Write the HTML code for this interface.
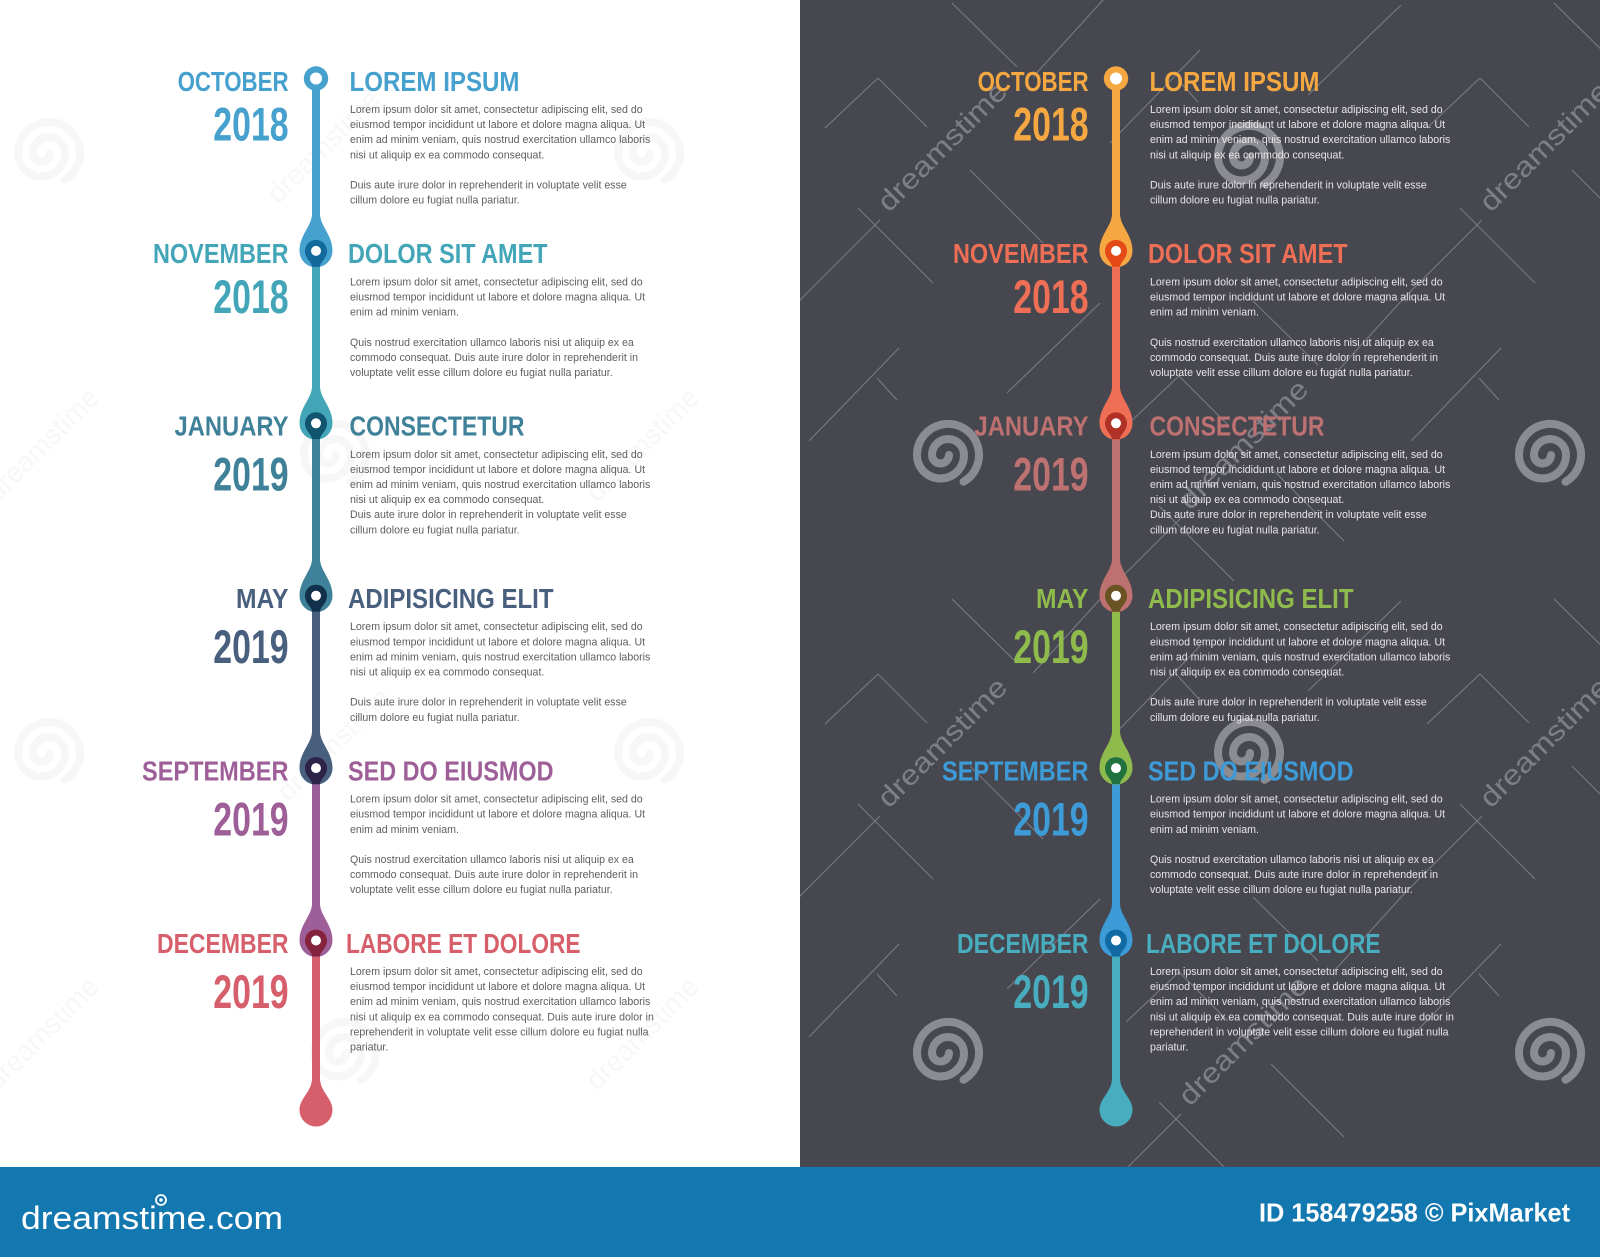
<!DOCTYPE html>
<html>
<head>
<meta charset="utf-8">
<style>
html,body{margin:0;padding:0;background:#fff;}
svg{display:block;}
.h{font-weight:bold;}
</style>
</head>
<body>
<svg width="1600" height="1257" viewBox="0 0 1600 1257" xmlns="http://www.w3.org/2000/svg" font-family="'Liberation Sans', Arial, sans-serif">
<defs>
  <clipPath id="dk"><rect x="800" y="0" width="800" height="1167"/></clipPath>
  <clipPath id="lt"><rect x="0" y="0" width="800" height="1167"/></clipPath>
  <path id="sp" d="M15.5,26.8 A31,31 0 1,0 -31,0 A23.5,23.5 0 0,0 16,0 A16,16 0 0,0 -16,0 A8.5,8.5 0 0,0 1,0" fill="none" stroke-width="8" stroke-linecap="round"/>
  <g id="wl" stroke-width="1.1">
    <line x1="825" y1="128" x2="878" y2="78"/>
    <line x1="878" y1="78" x2="927" y2="127"/>
    <line x1="952" y1="3" x2="1017" y2="67"/>
    <line x1="800" y1="300" x2="880" y2="220"/>
    <line x1="858" y1="208" x2="933" y2="283"/>
    <line x1="970" y1="170" x2="1043" y2="243"/>
    <line x1="1007" y1="393" x2="1100" y2="303"/>
    <line x1="877" y1="378" x2="897" y2="400"/>
    <line x1="1033" y1="77" x2="1103" y2="0"/>
    <line x1="1110" y1="143" x2="1200" y2="50"/>
  </g>
  <path id="td" d="M-4,-37C-4,-25 -16.5,-16 -16.5,0A16.5,16.5 0 0,0 16.5,0C16.5,-16 4,-25 4,-37Z"/>
  <path id="ti" d="M-11,0A11,11 0 0,1 11,0C11,8 4,11 4,16L-4,16C-4,11 -11,8 -11,0Z"/>
</defs>

<!-- backgrounds -->
<rect width="1600" height="1257" fill="#ffffff"/>
<rect x="800" y="0" width="800" height="1167" fill="#47474f"/>

<!-- left faint watermark -->
<g clip-path="url(#lt)" opacity="0.035">
  <use href="#sp" transform="translate(49,153)" stroke="#000"/>
  <use href="#sp" transform="translate(649,153)" stroke="#000"/>
  <use href="#sp" transform="translate(335,455)" stroke="#000"/>
  <use href="#sp" transform="translate(49,753)" stroke="#000"/>
  <use href="#sp" transform="translate(649,753)" stroke="#000"/>
  <use href="#sp" transform="translate(345,1053)" stroke="#000"/>
  <g fill="#000" font-size="28">
    <text transform="translate(330,153) rotate(-45)" text-anchor="middle">dreamstime</text>
    <text transform="translate(49,451) rotate(-45)" text-anchor="middle">dreamstime</text>
    <text transform="translate(649,451) rotate(-45)" text-anchor="middle">dreamstime</text>
    <text transform="translate(340,751) rotate(-45)" text-anchor="middle">dreamstime</text>
    <text transform="translate(49,1040) rotate(-45)" text-anchor="middle">dreamstime</text>
    <text transform="translate(649,1040) rotate(-45)" text-anchor="middle">dreamstime</text>
  </g>
</g>

<!-- right watermark -->
<g clip-path="url(#dk)">
  <g stroke="#7a7a83">
    <use href="#wl"/>
    <use href="#wl" transform="translate(0,596)"/>
    <use href="#wl" transform="translate(301,-298)"/>
    <use href="#wl" transform="translate(301,298)"/>
    <use href="#wl" transform="translate(301,894)"/>
    <use href="#wl" transform="translate(602,0)"/>
    <use href="#wl" transform="translate(602,596)"/>
    <use href="#wl" transform="translate(-301,298)"/>
    <use href="#wl" transform="translate(-301,894)"/>
  </g>
  <g stroke="#8b8b92">
    <use href="#sp" transform="translate(948,455)"/>
    <use href="#sp" transform="translate(1249,157)"/>
    <use href="#sp" transform="translate(1550,455)"/>
    <use href="#sp" transform="translate(948,1053)"/>
    <use href="#sp" transform="translate(1550,1053)"/>
    <use href="#sp" transform="translate(1249,753)"/>
  </g>
  <g fill="#7e7e86" font-size="28">
    <text transform="translate(949,153) rotate(-45)" text-anchor="middle" textLength="170" lengthAdjust="spacingAndGlyphs">dreamstime</text>
    <text transform="translate(1551,153) rotate(-45)" text-anchor="middle" textLength="170" lengthAdjust="spacingAndGlyphs">dreamstime</text>
    <text transform="translate(1250,451) rotate(-45)" text-anchor="middle" textLength="170" lengthAdjust="spacingAndGlyphs">dreamstime</text>
    <text transform="translate(949,749) rotate(-45)" text-anchor="middle" textLength="170" lengthAdjust="spacingAndGlyphs">dreamstime</text>
    <text transform="translate(1551,749) rotate(-45)" text-anchor="middle" textLength="170" lengthAdjust="spacingAndGlyphs">dreamstime</text>
    <text transform="translate(1250,1047) rotate(-45)" text-anchor="middle" textLength="170" lengthAdjust="spacingAndGlyphs">dreamstime</text>
  </g>
</g>

<!-- ================= LEFT TIMELINE ================= -->
<g>
  <rect x="312" y="78.5" width="8" height="172.4" fill="#46a1cf"/>
  <rect x="312" y="250.9" width="8" height="172.4" fill="#43a6b8"/>
  <rect x="312" y="423.3" width="8" height="172.4" fill="#3f8199"/>
  <rect x="312" y="595.7" width="8" height="172.4" fill="#485f7d"/>
  <rect x="312" y="768.1" width="8" height="172.4" fill="#9e5f98"/>
  <rect x="312" y="940.5" width="8" height="142" fill="#d65f6b"/>
  <circle cx="316" cy="78.5" r="12.2" fill="#46a1cf"/>
  <circle cx="316" cy="78.5" r="6" fill="#fff"/>
  <g transform="translate(316,250.9)"><use href="#td" fill="#46a1cf"/><use href="#ti" fill="#12699a"/><circle r="5" fill="#fff"/></g>
  <g transform="translate(316,423.3)"><use href="#td" fill="#43a6b8"/><use href="#ti" fill="#11546e"/><circle r="5" fill="#fff"/></g>
  <g transform="translate(316,595.7)"><use href="#td" fill="#3f8199"/><use href="#ti" fill="#12304b"/><circle r="5" fill="#fff"/></g>
  <g transform="translate(316,768.1)"><use href="#td" fill="#485f7d"/><use href="#ti" fill="#2d2349"/><circle r="5" fill="#fff"/></g>
  <g transform="translate(316,940.5)"><use href="#td" fill="#9e5f98"/><use href="#ti" fill="#85233f"/><circle r="5" fill="#fff"/></g>
  <path d="M312,1078C312,1092 299.5,1098 299.5,1110A16.5,16.5 0 0,0 332.5,1110C332.5,1098 320,1092 320,1078Z" fill="#d65f6b"/>
</g>

<!-- ================= RIGHT TIMELINE ================= -->
<g transform="translate(800,0)">
  <rect x="312" y="78.5" width="8" height="172.4" fill="#f5a841"/>
  <rect x="312" y="250.9" width="8" height="172.4" fill="#ee6f55"/>
  <rect x="312" y="423.3" width="8" height="172.4" fill="#bd7171"/>
  <rect x="312" y="595.7" width="8" height="172.4" fill="#8fbb4c"/>
  <rect x="312" y="768.1" width="8" height="172.4" fill="#3d9bd8"/>
  <rect x="312" y="940.5" width="8" height="142" fill="#48aebf"/>
  <circle cx="316" cy="78.5" r="12.2" fill="#f5a841"/>
  <circle cx="316" cy="78.5" r="6" fill="#fff"/>
  <g transform="translate(316,250.9)"><use href="#td" fill="#f5a841"/><use href="#ti" fill="#e54916"/><circle r="5" fill="#fff"/></g>
  <g transform="translate(316,423.3)"><use href="#td" fill="#ee6f55"/><use href="#ti" fill="#b03126"/><circle r="5" fill="#fff"/></g>
  <g transform="translate(316,595.7)"><use href="#td" fill="#bd7171"/><use href="#ti" fill="#6a5322"/><circle r="5" fill="#fff"/></g>
  <g transform="translate(316,768.1)"><use href="#td" fill="#8fbb4c"/><use href="#ti" fill="#22723f"/><circle r="5" fill="#fff"/></g>
  <g transform="translate(316,940.5)"><use href="#td" fill="#3d9bd8"/><use href="#ti" fill="#116aa2"/><circle r="5" fill="#fff"/></g>
  <path d="M312,1078C312,1092 299.5,1098 299.5,1110A16.5,16.5 0 0,0 332.5,1110C332.5,1098 320,1092 320,1078Z" fill="#48aebf"/>
</g>

<!-- ================= LEFT TEXT ================= -->
<g class="h" font-size="28">
  <text x="177.6" y="90.8" fill="#46a1cf" textLength="111" lengthAdjust="spacingAndGlyphs">OCTOBER</text>
  <text x="349.5" y="90.8" fill="#46a1cf" textLength="170" lengthAdjust="spacingAndGlyphs">LOREM IPSUM</text>
  <text x="153" y="263.2" fill="#43a6b8" textLength="135.5" lengthAdjust="spacingAndGlyphs">NOVEMBER</text>
  <text x="348" y="263.2" fill="#43a6b8" textLength="199.5" lengthAdjust="spacingAndGlyphs">DOLOR SIT AMET</text>
  <text x="174.5" y="435.6" fill="#3f8199" textLength="114" lengthAdjust="spacingAndGlyphs">JANUARY</text>
  <text x="349.5" y="435.6" fill="#3f8199" textLength="175" lengthAdjust="spacingAndGlyphs">CONSECTETUR</text>
  <text x="236" y="608" fill="#485f7d" textLength="52.5" lengthAdjust="spacingAndGlyphs">MAY</text>
  <text x="348" y="608" fill="#485f7d" textLength="205.5" lengthAdjust="spacingAndGlyphs">ADIPISICING ELIT</text>
  <text x="142" y="780.4" fill="#9e5f98" textLength="146.5" lengthAdjust="spacingAndGlyphs">SEPTEMBER</text>
  <text x="348" y="780.4" fill="#9e5f98" textLength="205.5" lengthAdjust="spacingAndGlyphs">SED DO EIUSMOD</text>
  <text x="157" y="952.8" fill="#d65f6b" textLength="131.5" lengthAdjust="spacingAndGlyphs">DECEMBER</text>
  <text x="346" y="952.8" fill="#d65f6b" textLength="234.5" lengthAdjust="spacingAndGlyphs">LABORE ET DOLORE</text>
</g>
<g class="h" font-size="47">
  <text x="213.3" y="140.7" fill="#46a1cf" textLength="75.3" lengthAdjust="spacingAndGlyphs">2018</text>
  <text x="213.3" y="313.1" fill="#43a6b8" textLength="75.3" lengthAdjust="spacingAndGlyphs">2018</text>
  <text x="213.3" y="490.6" fill="#3f8199" textLength="75.3" lengthAdjust="spacingAndGlyphs">2019</text>
  <text x="213.3" y="663" fill="#485f7d" textLength="75.3" lengthAdjust="spacingAndGlyphs">2019</text>
  <text x="213.3" y="835.4" fill="#9e5f98" textLength="75.3" lengthAdjust="spacingAndGlyphs">2019</text>
  <text x="213.3" y="1007.8" fill="#d65f6b" textLength="75.3" lengthAdjust="spacingAndGlyphs">2019</text>
</g>
<g font-size="10.6" fill="#5e5e5e">
  <text x="350" y="113">
    <tspan x="350" dy="0">Lorem ipsum dolor sit amet, consectetur adipiscing elit, sed do</tspan>
    <tspan x="350" dy="15.1">eiusmod tempor incididunt ut labore et dolore magna aliqua. Ut</tspan>
    <tspan x="350" dy="15.1">enim ad minim veniam, quis nostrud exercitation ullamco laboris</tspan>
    <tspan x="350" dy="15.1">nisi ut aliquip ex ea commodo consequat.</tspan>
    <tspan x="350" dy="30.2">Duis aute irure dolor in reprehenderit in voluptate velit esse</tspan>
    <tspan x="350" dy="15.1">cillum dolore eu fugiat nulla pariatur.</tspan>
  </text>
  <text x="350" y="285.4">
    <tspan x="350" dy="0">Lorem ipsum dolor sit amet, consectetur adipiscing elit, sed do</tspan>
    <tspan x="350" dy="15.1">eiusmod tempor incididunt ut labore et dolore magna aliqua. Ut</tspan>
    <tspan x="350" dy="15.1">enim ad minim veniam.</tspan>
    <tspan x="350" dy="30.2">Quis nostrud exercitation ullamco laboris nisi ut aliquip ex ea</tspan>
    <tspan x="350" dy="15.1">commodo consequat. Duis aute irure dolor in reprehenderit in</tspan>
    <tspan x="350" dy="15.1">voluptate velit esse cillum dolore eu fugiat nulla pariatur.</tspan>
  </text>
  <text x="350" y="457.8">
    <tspan x="350" dy="0">Lorem ipsum dolor sit amet, consectetur adipiscing elit, sed do</tspan>
    <tspan x="350" dy="15.1">eiusmod tempor incididunt ut labore et dolore magna aliqua. Ut</tspan>
    <tspan x="350" dy="15.1">enim ad minim veniam, quis nostrud exercitation ullamco laboris</tspan>
    <tspan x="350" dy="15.1">nisi ut aliquip ex ea commodo consequat.</tspan>
    <tspan x="350" dy="15.1">Duis aute irure dolor in reprehenderit in voluptate velit esse</tspan>
    <tspan x="350" dy="15.1">cillum dolore eu fugiat nulla pariatur.</tspan>
  </text>
  <text x="350" y="630.2">
    <tspan x="350" dy="0">Lorem ipsum dolor sit amet, consectetur adipiscing elit, sed do</tspan>
    <tspan x="350" dy="15.1">eiusmod tempor incididunt ut labore et dolore magna aliqua. Ut</tspan>
    <tspan x="350" dy="15.1">enim ad minim veniam, quis nostrud exercitation ullamco laboris</tspan>
    <tspan x="350" dy="15.1">nisi ut aliquip ex ea commodo consequat.</tspan>
    <tspan x="350" dy="30.2">Duis aute irure dolor in reprehenderit in voluptate velit esse</tspan>
    <tspan x="350" dy="15.1">cillum dolore eu fugiat nulla pariatur.</tspan>
  </text>
  <text x="350" y="802.6">
    <tspan x="350" dy="0">Lorem ipsum dolor sit amet, consectetur adipiscing elit, sed do</tspan>
    <tspan x="350" dy="15.1">eiusmod tempor incididunt ut labore et dolore magna aliqua. Ut</tspan>
    <tspan x="350" dy="15.1">enim ad minim veniam.</tspan>
    <tspan x="350" dy="30.2">Quis nostrud exercitation ullamco laboris nisi ut aliquip ex ea</tspan>
    <tspan x="350" dy="15.1">commodo consequat. Duis aute irure dolor in reprehenderit in</tspan>
    <tspan x="350" dy="15.1">voluptate velit esse cillum dolore eu fugiat nulla pariatur.</tspan>
  </text>
  <text x="350" y="975">
    <tspan x="350" dy="0">Lorem ipsum dolor sit amet, consectetur adipiscing elit, sed do</tspan>
    <tspan x="350" dy="15.1">eiusmod tempor incididunt ut labore et dolore magna aliqua. Ut</tspan>
    <tspan x="350" dy="15.1">enim ad minim veniam, quis nostrud exercitation ullamco laboris</tspan>
    <tspan x="350" dy="15.1">nisi ut aliquip ex ea commodo consequat. Duis aute irure dolor in</tspan>
    <tspan x="350" dy="15.1">reprehenderit in voluptate velit esse cillum dolore eu fugiat nulla</tspan>
    <tspan x="350" dy="15.1">pariatur.</tspan>
  </text>
</g>

<!-- ================= RIGHT TEXT ================= -->
<g transform="translate(800,0)">
<g class="h" font-size="28">
  <text x="177.6" y="90.8" fill="#f5a841" textLength="111" lengthAdjust="spacingAndGlyphs">OCTOBER</text>
  <text x="349.5" y="90.8" fill="#f5a841" textLength="170" lengthAdjust="spacingAndGlyphs">LOREM IPSUM</text>
  <text x="153" y="263.2" fill="#ee6f55" textLength="135.5" lengthAdjust="spacingAndGlyphs">NOVEMBER</text>
  <text x="348" y="263.2" fill="#ee6f55" textLength="199.5" lengthAdjust="spacingAndGlyphs">DOLOR SIT AMET</text>
  <text x="174.5" y="435.6" fill="#bd7171" textLength="114" lengthAdjust="spacingAndGlyphs">JANUARY</text>
  <text x="349.5" y="435.6" fill="#bd7171" textLength="175" lengthAdjust="spacingAndGlyphs">CONSECTETUR</text>
  <text x="236" y="608" fill="#8fbb4c" textLength="52.5" lengthAdjust="spacingAndGlyphs">MAY</text>
  <text x="348" y="608" fill="#8fbb4c" textLength="205.5" lengthAdjust="spacingAndGlyphs">ADIPISICING ELIT</text>
  <text x="142" y="780.4" fill="#3d9bd8" textLength="146.5" lengthAdjust="spacingAndGlyphs">SEPTEMBER</text>
  <text x="348" y="780.4" fill="#3d9bd8" textLength="205.5" lengthAdjust="spacingAndGlyphs">SED DO EIUSMOD</text>
  <text x="157" y="952.8" fill="#48aebf" textLength="131.5" lengthAdjust="spacingAndGlyphs">DECEMBER</text>
  <text x="346" y="952.8" fill="#48aebf" textLength="234.5" lengthAdjust="spacingAndGlyphs">LABORE ET DOLORE</text>
</g>
<g class="h" font-size="47">
  <text x="213.3" y="140.7" fill="#f5a841" textLength="75.3" lengthAdjust="spacingAndGlyphs">2018</text>
  <text x="213.3" y="313.1" fill="#ee6f55" textLength="75.3" lengthAdjust="spacingAndGlyphs">2018</text>
  <text x="213.3" y="490.6" fill="#bd7171" textLength="75.3" lengthAdjust="spacingAndGlyphs">2019</text>
  <text x="213.3" y="663" fill="#8fbb4c" textLength="75.3" lengthAdjust="spacingAndGlyphs">2019</text>
  <text x="213.3" y="835.4" fill="#3d9bd8" textLength="75.3" lengthAdjust="spacingAndGlyphs">2019</text>
  <text x="213.3" y="1007.8" fill="#48aebf" textLength="75.3" lengthAdjust="spacingAndGlyphs">2019</text>
</g>
<g font-size="10.6" fill="#e6e6e8">
  <text x="350" y="113">
    <tspan x="350" dy="0">Lorem ipsum dolor sit amet, consectetur adipiscing elit, sed do</tspan>
    <tspan x="350" dy="15.1">eiusmod tempor incididunt ut labore et dolore magna aliqua. Ut</tspan>
    <tspan x="350" dy="15.1">enim ad minim veniam, quis nostrud exercitation ullamco laboris</tspan>
    <tspan x="350" dy="15.1">nisi ut aliquip ex ea commodo consequat.</tspan>
    <tspan x="350" dy="30.2">Duis aute irure dolor in reprehenderit in voluptate velit esse</tspan>
    <tspan x="350" dy="15.1">cillum dolore eu fugiat nulla pariatur.</tspan>
  </text>
  <text x="350" y="285.4">
    <tspan x="350" dy="0">Lorem ipsum dolor sit amet, consectetur adipiscing elit, sed do</tspan>
    <tspan x="350" dy="15.1">eiusmod tempor incididunt ut labore et dolore magna aliqua. Ut</tspan>
    <tspan x="350" dy="15.1">enim ad minim veniam.</tspan>
    <tspan x="350" dy="30.2">Quis nostrud exercitation ullamco laboris nisi ut aliquip ex ea</tspan>
    <tspan x="350" dy="15.1">commodo consequat. Duis aute irure dolor in reprehenderit in</tspan>
    <tspan x="350" dy="15.1">voluptate velit esse cillum dolore eu fugiat nulla pariatur.</tspan>
  </text>
  <text x="350" y="457.8">
    <tspan x="350" dy="0">Lorem ipsum dolor sit amet, consectetur adipiscing elit, sed do</tspan>
    <tspan x="350" dy="15.1">eiusmod tempor incididunt ut labore et dolore magna aliqua. Ut</tspan>
    <tspan x="350" dy="15.1">enim ad minim veniam, quis nostrud exercitation ullamco laboris</tspan>
    <tspan x="350" dy="15.1">nisi ut aliquip ex ea commodo consequat.</tspan>
    <tspan x="350" dy="15.1">Duis aute irure dolor in reprehenderit in voluptate velit esse</tspan>
    <tspan x="350" dy="15.1">cillum dolore eu fugiat nulla pariatur.</tspan>
  </text>
  <text x="350" y="630.2">
    <tspan x="350" dy="0">Lorem ipsum dolor sit amet, consectetur adipiscing elit, sed do</tspan>
    <tspan x="350" dy="15.1">eiusmod tempor incididunt ut labore et dolore magna aliqua. Ut</tspan>
    <tspan x="350" dy="15.1">enim ad minim veniam, quis nostrud exercitation ullamco laboris</tspan>
    <tspan x="350" dy="15.1">nisi ut aliquip ex ea commodo consequat.</tspan>
    <tspan x="350" dy="30.2">Duis aute irure dolor in reprehenderit in voluptate velit esse</tspan>
    <tspan x="350" dy="15.1">cillum dolore eu fugiat nulla pariatur.</tspan>
  </text>
  <text x="350" y="802.6">
    <tspan x="350" dy="0">Lorem ipsum dolor sit amet, consectetur adipiscing elit, sed do</tspan>
    <tspan x="350" dy="15.1">eiusmod tempor incididunt ut labore et dolore magna aliqua. Ut</tspan>
    <tspan x="350" dy="15.1">enim ad minim veniam.</tspan>
    <tspan x="350" dy="30.2">Quis nostrud exercitation ullamco laboris nisi ut aliquip ex ea</tspan>
    <tspan x="350" dy="15.1">commodo consequat. Duis aute irure dolor in reprehenderit in</tspan>
    <tspan x="350" dy="15.1">voluptate velit esse cillum dolore eu fugiat nulla pariatur.</tspan>
  </text>
  <text x="350" y="975">
    <tspan x="350" dy="0">Lorem ipsum dolor sit amet, consectetur adipiscing elit, sed do</tspan>
    <tspan x="350" dy="15.1">eiusmod tempor incididunt ut labore et dolore magna aliqua. Ut</tspan>
    <tspan x="350" dy="15.1">enim ad minim veniam, quis nostrud exercitation ullamco laboris</tspan>
    <tspan x="350" dy="15.1">nisi ut aliquip ex ea commodo consequat. Duis aute irure dolor in</tspan>
    <tspan x="350" dy="15.1">reprehenderit in voluptate velit esse cillum dolore eu fugiat nulla</tspan>
    <tspan x="350" dy="15.1">pariatur.</tspan>
  </text>
</g>
</g>

<!-- ================= FOOTER ================= -->
<rect x="0" y="1167" width="1600" height="90" fill="#1377b0"/>
<text x="21" y="1229" font-size="32" fill="#ffffff" textLength="262" lengthAdjust="spacingAndGlyphs">dreamstime.com</text>
<circle cx="161" cy="1200" r="5" fill="none" stroke="#ffffff" stroke-width="1.8"/>
<circle cx="161" cy="1200" r="1.8" fill="#ffffff"/>
<text x="1259" y="1221.7" font-size="26" font-weight="bold" fill="#ffffff" textLength="311" lengthAdjust="spacingAndGlyphs">ID 158479258 © PixMarket</text>
</svg>
</body>
</html>
